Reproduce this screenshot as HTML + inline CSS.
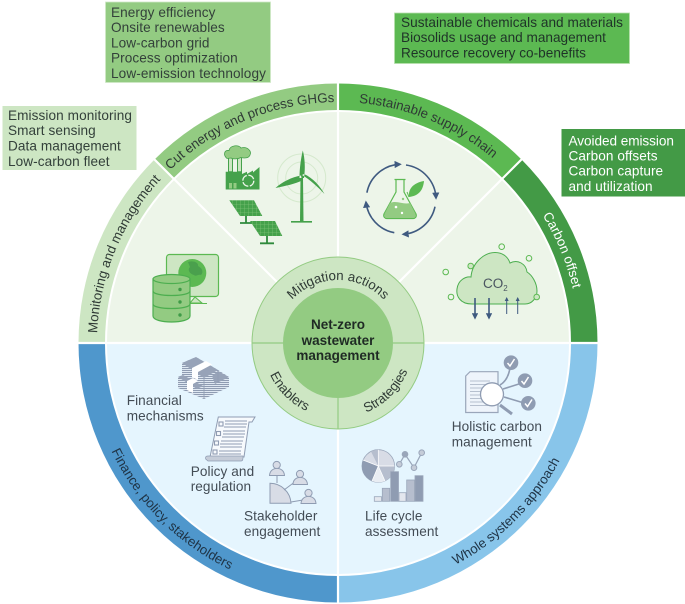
<!DOCTYPE html>
<html><head><meta charset="utf-8"><title>Net-zero wastewater management</title>
<style>
html,body{margin:0;padding:0;background:#fff}
svg{display:block}
text{font-family:"Liberation Sans",sans-serif}
.b{font-size:13.6px;fill:#33403a;letter-spacing:.07px}
.a{font-size:13.3px;fill:#2f3a35}
.l{font-size:13.6px;fill:#434c55;letter-spacing:.08px}
</style></head><body>
<svg width="685" height="604" viewBox="0 0 685 604" xmlns="http://www.w3.org/2000/svg">
<defs>
<path id="pm" d="M97,343 A241,241 0 0 1 167.6,172.6"/>
<path id="pc" d="M167.6,172.6 A241,241 0 0 1 338,102"/>
<path id="ps" d="M338,102 A241,241 0 0 1 508.4,172.6"/>
<path id="po" d="M508.4,172.6 A241,241 0 0 1 579,343"/>
<path id="pf" d="M87,343 A251,251 0 0 0 338,594"/>
<path id="pw" d="M338,594 A251,251 0 0 0 589,343"/>
<path id="pa" d="M275,343 A63,63 0 0 1 401,343"/>
<path id="pe" d="M263,343 A75,75 0 0 0 338,418"/>
<path id="pt" d="M338,418 A75,75 0 0 0 413,343"/>
<pattern id="st" width="3" height="2" patternUnits="userSpaceOnUse"><rect width="3" height="2" fill="#dfe8f2"/><rect width="3" height="1" fill="#8f9cb2"/></pattern>
<pattern id="gr" width="4" height="4" patternUnits="userSpaceOnUse"><rect width="4" height="4" fill="#45a14b"/><path d="M0 0H4M0 0V4" stroke="#8fcb84" stroke-width=".6"/></pattern>
<marker id="ar" viewBox="0 0 8 8" refX="6" refY="4" markerWidth="4.5" markerHeight="4.5" orient="auto"><path d="M0,0L8,4L0,8Z" fill="#3f5a80"/></marker>
<marker id="ad" viewBox="0 0 8 8" refX="6" refY="4" markerWidth="4" markerHeight="4" orient="auto"><path d="M0,0L8,4L0,8Z" fill="#3f5a80"/></marker>
</defs>

<!-- Outer bands -->
<path d="M78.5,343 A259.5,259.5 0 0 1 154.5,159.5 L338,343Z" fill="#cde6c3"/>
<path d="M154.5,159.5 A259.5,259.5 0 0 1 338,83.5 V343Z" fill="#93cb82"/>
<path d="M338,83.5 A259.5,259.5 0 0 1 521.5,159.5 L338,343Z" fill="#5cb952"/>
<path d="M521.5,159.5 A259.5,259.5 0 0 1 597.5,343 H338Z" fill="#439a46"/>
<path d="M78.5,343 A259.5,259.5 0 0 0 338,602.5 V343Z" fill="#4f97cc"/>
<path d="M338,602.5 A259.5,259.5 0 0 0 597.5,343 H338Z" fill="#88c5ea"/>
<!-- Inner fields -->
<path d="M106,343 A232,232 0 0 1 570,343Z" fill="#edf5e9" stroke="#fff" stroke-width="2"/>
<path d="M106,343 A232,232 0 0 0 570,343Z" fill="#e5f5fe" stroke="#fff" stroke-width="2"/>
<!-- White dividers -->
<g stroke="#fff" stroke-width="2.2">
<path d="M76,343H600"/>
<path d="M338,80V605"/>
<path d="M153,158L338,343"/>
<path d="M523,158L338,343"/>
</g>

<!-- Band labels -->
<text class="a"><textPath href="#pm" startOffset="50%" text-anchor="middle">Monitoring and management</textPath></text>
<text class="a"><textPath href="#pc" startOffset="50%" text-anchor="middle">Cut energy and process GHGs</textPath></text>
<text class="a"><textPath href="#ps" startOffset="50%" text-anchor="middle">Sustainable supply chain</textPath></text>
<text class="a" style="fill:#fff"><textPath href="#po" startOffset="50%" text-anchor="middle">Carbon offset</textPath></text>
<text class="a" style="fill:#1f3345"><textPath href="#pf" startOffset="50%" text-anchor="middle">Finance, policy, stakeholders</textPath></text>
<text class="a" style="fill:#1f3345"><textPath href="#pw" startOffset="50%" text-anchor="middle">Whole systems approach</textPath></text>

<!-- Top boxes -->
<rect x="105.5" y="2" width="165" height="80.5" fill="#93cb82" stroke="#cfe8c6" stroke-width=".8"/>
<text class="b" x="111" y="17">Energy efficiency</text><text class="b" x="111" y="32">Onsite renewables</text><text class="b" x="111" y="47.5">Low-carbon grid</text><text class="b" x="111" y="62.5">Process optimization</text><text class="b" x="111" y="78" textLength="155">Low-emission technology</text>
<rect x="394.5" y="13" width="235" height="50.5" fill="#5cb952" stroke="#b6e0ac" stroke-width=".8"/>
<text class="b" x="401" y="27" style="fill:#1f3328" textLength="222">Sustainable chemicals and materials</text><text class="b" x="401" y="42" style="fill:#1f3328" textLength="205">Biosolids usage and management</text><text class="b" x="401" y="57.5" style="fill:#1f3328" textLength="185">Resource recovery co-benefits</text>
<rect x="561.5" y="129" width="124" height="67.5" fill="#439a46"/>
<text class="b" x="568.5" y="145.5" style="fill:#fff" textLength="105.5">Avoided emission</text><text class="b" x="568.5" y="160.5" style="fill:#fff">Carbon offsets</text><text class="b" x="568.5" y="175.5" style="fill:#fff">Carbon capture</text><text class="b" x="568.5" y="191" style="fill:#fff">and utilization</text>
<rect x="2.5" y="106" width="134" height="64" fill="#cde6c3"/>
<text class="b" x="8" y="120" textLength="124">Emission monitoring</text><text class="b" x="8" y="135">Smart sensing</text><text class="b" x="8" y="150.5">Data management</text><text class="b" x="8" y="166">Low-carbon fleet</text>

<!-- Centre disc -->
<circle cx="338" cy="343" r="86" fill="#cde6c3" stroke="#93cb82" stroke-width="1"/>
<circle cx="338" cy="343" r="55" fill="#93cb82"/>
<path d="M252,343H283M393,343H424M338,398V429" stroke="#93cb82" stroke-width="1.2"/>
<text x="338" y="329" text-anchor="middle" font-size="13.5" font-weight="700" fill="#1f2a24">Net-zero</text>
<text x="338" y="345" text-anchor="middle" font-size="13.5" font-weight="700" fill="#1f2a24">wastewater</text>
<text x="338" y="360" text-anchor="middle" font-size="13.5" font-weight="700" fill="#1f2a24">management</text>
<text class="a"><textPath href="#pa" startOffset="50%" text-anchor="middle">Mitigation actions</textPath></text>
<text class="a"><textPath href="#pe" startOffset="50%" text-anchor="middle">Enablers</textPath></text>
<text class="a"><textPath href="#pt" startOffset="50%" text-anchor="middle">Strategies</textPath></text>

<!-- Factory -->
<path d="M225.7,189.5V171.7H242V174L247,171.7V174L253,170.5V172.5L259.5,167V189.5Z" fill="#45a14b"/>
<path d="M228.5,157H232.5V171.7H228.5ZM237.5,157H241.5V171.7H237.5Z" fill="#cde6c3" stroke="#45a14b"/>
<path d="M227,158.5C223,155 224,150 229,150.5C230,145 239,144.5 241,148C247,146 252,151 250,155C249,158 245,158.5 241,157.5C238,159 233,159.5 231,158Z" fill="#93cb82" stroke="#45a14b" stroke-width=".8"/>
<circle cx="248.3" cy="180.7" r="5.5" fill="none" stroke="#edf5e9" stroke-width="1.4" stroke-dasharray="7 1.6"/>
<rect x="229" y="183" width="3" height="5.5" fill="#93cb82"/><rect x="233.5" y="183" width="3" height="5.5" fill="#93cb82"/>
<!-- Wind turbine -->
<circle cx="301.7" cy="178" r="24" fill="none" stroke="#d5e9cd" stroke-width="1"/>
<circle cx="301.7" cy="178" r="16" fill="none" stroke="#d5e9cd" stroke-width="1"/>
<path d="M299.5,178C299.5,168 301,158 302.8,150.5C304.8,158 305.5,168 304,178ZM301,175.5C292,177 282,182 275.5,188C285,186 295,184 302,180.5ZM302,175C309,179 318,187 324.5,194C320,186 313,178 304,174Z" fill="#45a14b"/>
<path d="M300.5,178H303L303.5,221H300Z" fill="#45a14b"/>
<path d="M291,221.8H312" stroke="#45a14b" stroke-width="1.6"/>
<!-- Solar panels -->
<path d="M229.3,200.3H254L262.3,216H240Z" fill="url(#gr)"/>
<path d="M246,216V222.5M240,223H253" stroke="#2f8a3c" stroke-width="1.8" fill="none"/>
<path d="M250,221H275L282.3,236H260Z" fill="url(#gr)"/>
<path d="M267,236V243M260,243.3H274" stroke="#2f8a3c" stroke-width="1.8" fill="none"/>

<!-- Database + monitor -->
<rect x="166.5" y="254.5" width="52" height="42" rx="3" fill="#cde6c3" stroke="#5cb952" stroke-width="1.2"/>
<path d="M195,297L202,303H190ZM190,303.5H207" stroke="#5cb952" fill="#cde6c3"/>
<circle cx="192.3" cy="273" r="14" fill="#5cb952"/>
<path d="M188,262C194,260 199,263 198,266C202,268 204,272 201,275C198,274 196,277 194,275C190,274 187,270 190,267Z" fill="#4aa04d"/>
<path d="M153,279V316C153,324 190,324 190,316V279Z" fill="#93cb82" stroke="#4cae4f" stroke-width="1.2"/>
<ellipse cx="171.5" cy="279" rx="18.5" ry="4.5" fill="#93cb82" stroke="#4cae4f" stroke-width="1.2"/>
<path d="M153,291C153,297 190,297 190,291M153,304C153,310 190,310 190,304" fill="none" stroke="#4cae4f" stroke-width="1.2"/>
<circle cx="180" cy="289.5" r="1.7" fill="#3f9b47"/><circle cx="180" cy="302" r="1.7" fill="#3f9b47"/><circle cx="180" cy="315" r="1.7" fill="#3f9b47"/>

<!-- Flask + arrows -->
<g fill="none" stroke="#3f5a80" stroke-width="1.6">
<path d="M366.9,192.7A35,35 0 0 1 400,164.3" marker-end="url(#ar)"/>
<path d="M406,165A35,35 0 0 1 436,198" marker-end="url(#ar)"/>
<path d="M435,206.7A35,35 0 0 1 403.3,234.3" marker-end="url(#ar)"/>
<path d="M394.3,232.7A35,35 0 0 1 366,202.3" marker-end="url(#ar)"/>
</g>
<path d="M394.5,179.5H405.5M396,180V192L384,214C383,217 385,218.5 387,218.5H413C415,218.5 417,217 416,214L404,192V180" fill="none" stroke="#5cb952" stroke-width="1.2"/>
<path d="M390,203C397,200 403,205 410,203L415.5,214C416,217 415,218 413,218H387C385,218 384,217 384.5,214Z" fill="#93cb82"/>
<circle cx="396" cy="207" r="1.3" fill="#fff"/><circle cx="402" cy="213" r="1.2" fill="#fff"/><circle cx="403" cy="199" r="1.2" fill="#93cb82"/>
<path d="M409,197C408,189 413,183 424,181C423,191 418,196 409,197Z" fill="#5cb952"/>
<path d="M407,192C408,194 408,195 409,197" stroke="#5cb952" fill="none"/>

<!-- CO2 cloud -->
<path d="M472,304C460,304 456,296 457,289C458,280 466,276 471,277C472,263 484,252.5 495,252.5C503,252.5 508,257 510,263C518,259 526,264 527,272C532,275 537,283 537,291C537,298 532,304 525,304Z" fill="#cde6c3" stroke="#4cae4f" stroke-width="1"/>
<text x="483" y="288" font-size="13.5" fill="#4a5560">CO<tspan font-size="8" dy="3">2</tspan></text>
<g stroke="#3f5a80" fill="none">
<path d="M475,298V318" stroke-width="1.6" marker-end="url(#ad)"/>
<path d="M489,298V318" stroke-width="1.6" marker-end="url(#ad)"/>
<path d="M506.7,314V298" stroke-width="1" marker-end="url(#ad)"/>
<path d="M517.7,314V298" stroke-width="1" marker-end="url(#ad)"/>
</g>
<g fill="#cde6c3" stroke="#5cb952" stroke-width="1">
<circle cx="501.7" cy="246.7" r="2.8" fill="#edf5e9"/><circle cx="529" cy="258.3" r="2.8" fill="#edf5e9"/><circle cx="445.7" cy="272" r="2.8" fill="#edf5e9"/><circle cx="470.7" cy="266" r="2.8"/><circle cx="451" cy="297" r="2.8" fill="#edf5e9"/><circle cx="536.7" cy="297" r="2.8"/>
</g>

<!-- Money -->
<path d="M182,363L196,357L218,370L229,377V387L204,399L178,388V377L182,375Z" fill="url(#st)"/>
<path d="M182,363L196,357L218,370L204,378Z" fill="#97a3b8"/>
<path d="M178,377L183,375L203,386L197,389Z" fill="#97a3b8"/>
<path d="M212,376L218,371L229,377L215,384Z" fill="#97a3b8"/>
<path d="M192,368L206,361L212,364.5L198,372V380L192,377Z" fill="#fff"/>
<path d="M187,381L193,378L198,381L193,384V393L187,390Z" fill="#fff"/>
<path d="M204,378V399M218,370V383" stroke="#8f9cb2" stroke-width=".8"/>
<!-- Policy -->
<path d="M218.3,417H255L252,422H249L244,457H210Z" fill="#f7fafd" stroke="#8f9cb2" stroke-width="1"/>
<path d="M205.7,459C205,456 207,456 208,456H243C243,459 243,461 241,461H208Z" fill="#c5ccd8" stroke="#8f9cb2" stroke-width=".7"/>
<g stroke="#8f9cb2" stroke-width="1.1" fill="#f7fafd">
<rect x="219" y="422" width="4" height="4"/><rect x="216.5" y="431.5" width="4" height="4"/><rect x="214.5" y="441" width="4" height="4"/><rect x="213" y="450" width="4" height="4"/>
<path d="M225,421H247M225,424H247M224,427H246M223,431H245M223,434H245M222,437H244M221,441H243M220,444H242M220,447H242M219,451H241M219,454H241"/>
</g>
<!-- Stakeholder -->
<path d="M270,483.3A21,21 0 0 1 291,503.3H270Z" fill="#d8dce6" stroke="#8f9cb2" stroke-width="1"/>
<path d="M284,490L296,481M291,502L303,500M277,483V474" stroke="#8f9cb2" stroke-width="1"/>
<g fill="#d8dce6" stroke="#8f9cb2" stroke-width="1">
<circle cx="276.7" cy="465" r="3.6"/><path d="M269.5,475.5C270,466 284,466 284.5,475.5Z"/>
<circle cx="300" cy="474" r="3.6"/><path d="M293,484.5C293,475 307,475 307.5,484.5Z"/>
<circle cx="308.5" cy="493" r="3.6"/><path d="M301,503.5C301.5,494 315.5,494 316,503.5Z"/>
</g>
<!-- Holistic -->
<path d="M465.7,376L470,371.7H498V412.5H465.7Z" fill="#eef4fb" stroke="#9aa6ba" stroke-width="1.2"/>
<path d="M470,381H490M470,384.5H496M470,388H482M470,391.5H482M470,395H482M470,398.5H482M470,402H488M470,405.5H490" stroke="#b6c0cf" stroke-width="1.1"/>
<path d="M500,385C507,381 509,374 510,368M503,389L522,383M504,397L524,403" stroke="#8f9cb2" stroke-width="1.6" fill="none"/>
<path d="M500,405L512,414" stroke="#8f9cb2" stroke-width="3"/>
<circle cx="492" cy="394.3" r="11.5" fill="#fff" stroke="#8f9cb2" stroke-width="1.3"/>
<g fill="#8f9cb2"><circle cx="511" cy="362.7" r="7.3"/><circle cx="525" cy="380.7" r="7.3"/><circle cx="528.3" cy="403.3" r="7.3"/></g>
<path d="M507.5,363L510,366L514.5,359M521.5,381L524,384L528.5,377M525,403.5L527.5,406.5L532,399.5" stroke="#fff" stroke-width="1.5" fill="none"/>
<!-- Life cycle -->
<circle cx="378.3" cy="466" r="16.3" fill="#d8dce6" stroke="#9aa6ba" stroke-width=".8"/>
<path d="M378.3,466L363,460A16.3,16.3 0 0 0 372,481Z" fill="#8f9cb2"/>
<path d="M378.3,466L371,451.5A16.3,16.3 0 0 1 378.3,449.7Z" fill="#b6bece"/>
<path d="M378.3,466L372,481A16.3,16.3 0 0 0 385,481Z" fill="#e9edf3"/>
<path d="M378.3,466L394.5,466A16.3,16.3 0 0 1 385,481Z" fill="#b6bece"/>
<path d="M378.3,449.7V466H394.5M378.3,466L363,460M378.3,466L372,481M378.3,466L385,481" stroke="#fff" stroke-width=".7" fill="none"/>
<g stroke="#9aa6ba" stroke-width=".8">
<rect x="374.3" y="496.7" width="7.2" height="4.6" fill="#e3e7ee"/>
<rect x="382.3" y="488.3" width="7.4" height="13" fill="#b6bece"/>
<rect x="390.7" y="471.7" width="7.8" height="29.6" fill="#8f9cb2"/>
<rect x="399" y="492.7" width="7" height="8.6" fill="#e3e7ee"/>
<rect x="406.7" y="480" width="7.8" height="21.3" fill="#b6bece"/>
<rect x="415" y="475.7" width="8" height="25.6" fill="#8f9cb2"/>
</g>
<path d="M399.3,464.3L405,454.3L414,467.7L421.7,452.7" stroke="#9aa6ba" stroke-width="1.2" fill="none"/>
<g fill="#c5ccd8" stroke="#9aa6ba"><circle cx="399.3" cy="464.3" r="2.8"/><circle cx="405" cy="454.3" r="2.8" fill="#9aa6ba"/><circle cx="414" cy="467.7" r="2.8"/><circle cx="421.7" cy="452.7" r="2.8"/></g>

<!-- Quadrant labels -->
<text class="l" x="126.7" y="405">Financial</text><text class="l" x="126.7" y="420.5">mechanisms</text>
<text class="l" x="190.7" y="476">Policy and</text><text class="l" x="190.7" y="491">regulation</text>
<text class="l" x="244" y="520.5">Stakeholder</text><text class="l" x="244" y="536">engagement</text>
<text class="l" x="451.7" y="431">Holistic carbon</text><text class="l" x="451.7" y="446.5">management</text>
<text class="l" x="365" y="520.5">Life cycle</text><text class="l" x="365" y="536">assessment</text>
</svg>
</body></html>
